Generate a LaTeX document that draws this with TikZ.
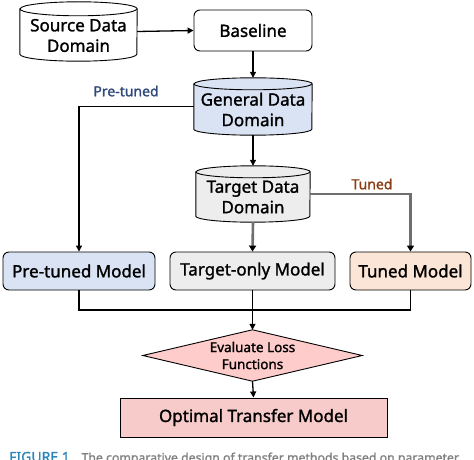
\documentclass[tikz,border=0pt]{standalone}
\usepackage{fontspec}
\setmainfont{Noto Sans}[FakeBold=1.2]
\newfontfamily\semib{Noto Sans}[FakeBold=1.4]
\usetikzlibrary{arrows.meta,calc}
\definecolor{blueF}{HTML}{DAE3F3}
\definecolor{grayF}{HTML}{EDEDED}
\definecolor{peachF}{HTML}{FBE5D6}
\definecolor{pinkF}{HTML}{FFCCCC}
\definecolor{optF}{HTML}{F8CBCB}
\definecolor{preC}{HTML}{2F4A7A}
\definecolor{tunC}{HTML}{8B3E12}
\definecolor{capB}{HTML}{2A86B8}
\definecolor{gline}{HTML}{6E6E6E}
\newcommand{\drawcyl}[4]{% name, fill, half width, ry
  \path[fill=#2,draw=black,line width=0.9pt]
    ($(#1.north west)+(0,-#4)$) -- ($(#1.south west)+(0,#4)$)
    arc[start angle=180,end angle=360,x radius=#3,y radius=#4]
    -- ($(#1.north east)+(0,-#4)$)
    arc[start angle=0,end angle=180,x radius=#3,y radius=#4] -- cycle;
  \draw[line width=0.9pt] ($(#1.north west)+(0,-#4)$)
    arc[start angle=180,end angle=360,x radius=#3,y radius=#4];
}
\begin{document}
\begin{tikzpicture}[x=1pt,y=-1pt,
  txt/.style={font=\semib\fontsize{17}{20.5}\selectfont,align=center,text=black},
  cylbox/.style={inner sep=0pt},
  model/.style={txt,draw=black,line width=0.9pt,rounded corners=6pt,inner sep=0pt},
  conn/.style={line width=1.3pt,black},
  arr/.style={conn,-{Triangle[length=6pt,width=6pt]}},
  garr/.style={line width=2.6pt,gline,-{Triangle[length=6pt,width=7pt,black]}},
  lbl/.style={font=\semib\fontsize{14}{16}\selectfont}
]
\useasboundingbox (0,0) rectangle (474,460);
\fill[white] (0,0) rectangle (474,460);

% cylinders (named shape holders)
\node[cylbox,minimum width=117pt,minimum height=59pt] (src) at (78.5,31.5) {};
\drawcyl{src}{white}{58.5pt}{7pt}
\node[txt] (srct) at ($(src.center)+(0,4)$) {Source Data\\Domain};

\node[model,minimum width=118pt,minimum height=41pt] (base) at (253,30.5) {Baseline};

\node[cylbox,minimum width=118pt,minimum height=57pt] (gen) at (253,106.5) {};
\drawcyl{gen}{blueF}{59pt}{6pt}
\node[txt] (gent) at ($(gen.center)+(0,3)$) {General Data\\Domain};

\node[cylbox,minimum width=114pt,minimum height=56pt] (tgt) at (253,194) {};
\drawcyl{tgt}{grayF}{57pt}{6pt}
\node[txt] (tgtt) at ($(tgt.center)+(0,3)$) {Target Data\\Domain};

\node[model,fill=blueF,minimum width=152pt,minimum height=38pt] (pre) at (79,271) {Pre-tuned Model};
\node[model,fill=grayF,minimum width=165pt,minimum height=38pt] (tonly) at (252.5,271) {Target-only Model};
\node[model,fill=peachF,minimum width=121pt,minimum height=38pt] (tuned) at (410.5,271) {Tuned Model};

% diamond
\node[inner sep=0pt,minimum width=219pt,minimum height=51pt] (eval) at (252.5,355.5) {};
\draw[line width=0.9pt,fill=pinkF] (eval.north) -- (eval.east) -- (eval.south) -- (eval.west) -- cycle;
\node[font=\semib\fontsize{13.5}{17}\selectfont,align=center] (evalt) at (eval.center) {Evaluate Loss\\Functions};

\node[txt,draw=black,line width=0.9pt,fill=optF,minimum width=267pt,minimum height=39pt,inner sep=0pt] (opt) at (253.5,417.5) {Optimal Transfer Model};

% labels
\node[lbl,text=preC] (lpre) at (126,91) {Pre-tuned};
\node[lbl,text=tunC] (ltun) at (372,184) {Tuned};

% connectors
\draw[arr] (src.east) -- (base.west);
\draw[arr] (base.south) -- (gen.north);
\draw[arr] (gen.west) -| (pre.north);
\draw[arr] (gen.south) -- (tgt.north);
\draw[garr] (tgt.south) -- (tonly.north);
\draw[garr] (tgt.east) -| (tuned.north);
\coordinate (j) at (252.5,310);
\draw[conn] (pre.south) |- (j) -| (tuned.south);
\draw[arr] (tonly.south) -- (eval.north);
\draw[arr] (eval.south) -- (opt.north);

% caption (cut off at the bottom, as in the reference)
\node[anchor=base west,inner sep=0pt] (cap) at (9,462)
  {\textcolor{capB}{\fontsize{14}{16}\selectfont\textbf{FIGURE 1.}}\hspace{8pt}\textcolor{gray}{\fontsize{12.3}{15}\selectfont The comparative design of transfer methods based on parameter}};
\end{tikzpicture}
\end{document}
